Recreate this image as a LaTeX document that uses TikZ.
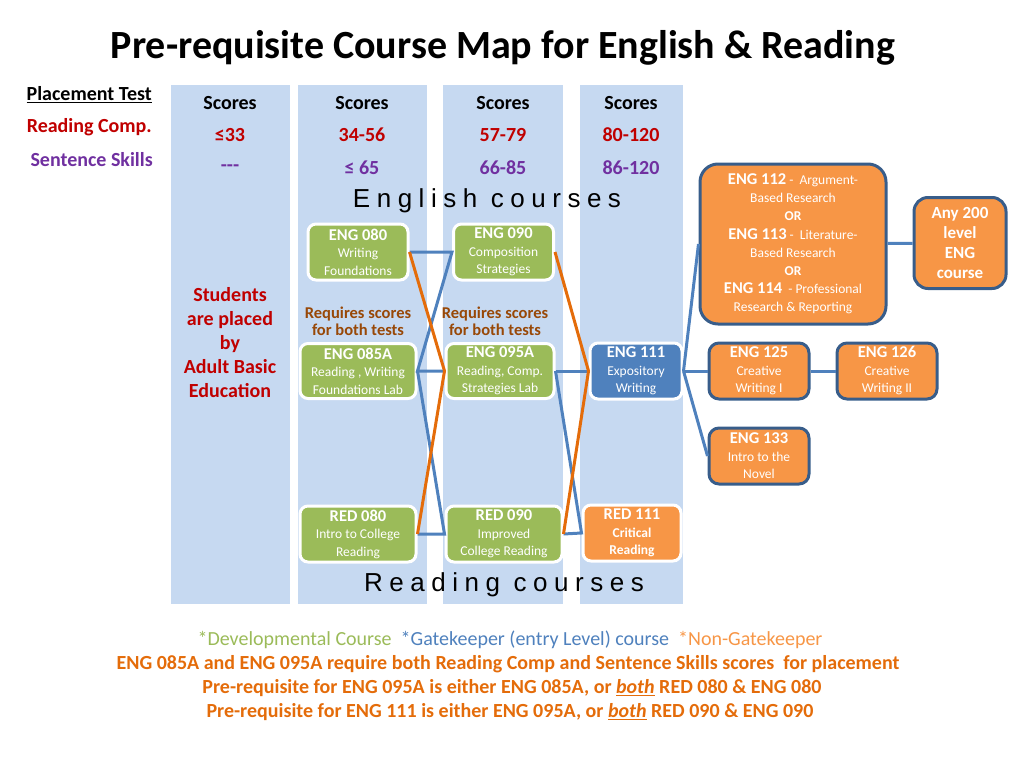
\documentclass[tikz,border=0pt]{standalone}
\usepackage{fontspec}
\setmainfont{Carlito}
\newfontfamily\spacedfont[LetterSpace=25]{Liberation Sans}
\usetikzlibrary{positioning}
\definecolor{colblue}{HTML}{C6D9F1}
\definecolor{devgreen}{HTML}{9BBB59}
\definecolor{gateblue}{HTML}{4F81BD}
\definecolor{ngorange}{HTML}{F79646}
\definecolor{darkorange}{HTML}{E46C0A}
\definecolor{edgeblue}{HTML}{385D8A}
\definecolor{scorered}{HTML}{C00000}
\definecolor{skillpurple}{HTML}{7030A0}
\definecolor{reqbrown}{HTML}{984807}
\newcommand{\cname}[1]{{\fontsize{16.5}{17.5}\selectfont\bfseries #1}}
\tikzset{
  basic/.style   = {rectangle, align=center, text=white, inner sep=1pt, line width=3pt, font=\fontsize{13.5}{17.5}\selectfont},
  devel/.style   = {basic, rounded corners=8pt, fill=devgreen, draw=white},
  gate/.style    = {basic, rounded corners=8pt, fill=gateblue, draw=white},
  redgate/.style = {basic, rounded corners=8pt, fill=ngorange, draw=white},
  upper/.style   = {basic, rounded corners=10pt, fill=ngorange, draw=edgeblue},
  head/.style    = {font=\fontsize{20}{22}\selectfont\bfseries, inner sep=0pt},
  side/.style    = {font=\fontsize{20}{22}\selectfont\bfseries, inner sep=0pt, anchor=east},
  note/.style    = {font=\fontsize{16.5}{17}\selectfont\bfseries, text=reqbrown, align=center, inner sep=0pt},
  spaced/.style  = {font=\spacedfont\fontsize{26}{28}\selectfont, inner sep=0pt},
  foot/.style    = {font=\fontsize{20}{22}\selectfont\bfseries, text=darkorange, inner sep=0pt},
  link/.style    = {draw=gateblue, line width=3pt},
  olink/.style   = {draw=darkorange, line width=3pt}
}
\begin{document}
\begin{tikzpicture}[x=1pt, y=-1pt]
    \useasboundingbox (0,0) rectangle (1024,768);

    % title
    \node[font=\fontsize{40}{44}\selectfont\bfseries] (title) at (503,48) {Pre-requisite Course Map for English \& Reading};

    % score columns
    \foreach \l/\r in {171/290, 298/427, 443/563, 580/683}
      \fill[colblue] (\l,85) rectangle (\r,604);

    % placement test labels
    \node[side] (pt) at (152,95) {\underline{Placement Test}};
    \node[side, text=scorered] (rc) at (152,127) {Reading Comp.};
    \node[side, text=skillpurple] (ss) at (153,160) {Sentence Skills};

    % score ranges per column
    \foreach \x/\rc/\sk [count=\i] in {230/≤33/-{}-{}-, 362/34-56/≤ 65, 503/57-79/66-85, 631/80-120/86-120} {
      \node[head] (s\i) at (\x,103) {Scores};
      \node[head, text=scorered] (r\i) at (\x,135) {\rc};
      \node[head, text=skillpurple] (k\i) at (\x,168) {\sk};
    }

    \node[spaced] (eng) at (487,201) {English courses};
    \node[spaced] (red) at (504,585) {Reading courses};

    \node[head, text=scorered, align=center, font=\fontsize{20}{24}\selectfont\bfseries] (abe) at (230,343)
      {Students\\are placed\\by\\Adult Basic\\Education};

    % developmental courses
    \node[devel, minimum width=100pt, minimum height=56pt] (e080) at (358,252) {\cname{ENG 080}\\Writing\\Foundations};
    \node[devel, minimum width=100pt, minimum height=56pt] (e090) at (503.5,252) {\cname{ENG 090}\\Composition\\Strategies};
    \node[devel, minimum width=116pt, minimum height=55pt] (e085) at (358,371) {\cname{ENG 085A}\\Reading , Writing\\Foundations Lab};
    \node[devel, minimum width=108pt, minimum height=55pt] (e095) at (500,371) {\cname{ENG 095A}\\Reading, Comp.\\Strategies Lab};
    \node[devel, minimum width=116pt, minimum height=56pt] (r080) at (358,534) {\cname{RED 080}\\Intro to College\\Reading};
    \node[devel, minimum width=116pt, minimum height=56pt] (r090) at (504,534) {\cname{RED 090}\\Improved\\College Reading};

    \node[note] (n1) at (358,321) {Requires scores\\for both tests};
    \node[note] (n2) at (495,321) {Requires scores\\for both tests};

    % gatekeeper courses
    \node[gate, minimum width=92pt, minimum height=56pt] (e111) at (636,371) {\cname{ENG 111}\\Expository\\Writing};
    \node[redgate, minimum width=98pt, minimum height=56pt] (r111) at (632,533) {\cname{RED 111}\\\textbf{Critical}\\\textbf{Reading}};

    % non-gatekeeper courses
    \node[upper, rounded corners=18pt, minimum width=186pt, minimum height=160pt, font=\fontsize{13.5}{18.2}\selectfont] (e112) at (793,244)
      {\cname{ENG 112} -~ Argument-\\Based Research\\\textbf{OR}\\\cname{ENG 113} -~ Literature-\\Based Research\\\textbf{OR}\\\cname{ENG 114} ~-~Professional\\Research \& Reporting};
    \node[upper, rounded corners=14pt, minimum width=92pt, minimum height=91pt, font=\fontsize{17}{20}\selectfont\bfseries] (any) at (960,243)
      {Any 200\\level\\ENG\\course};
    \node[upper, minimum width=100pt, minimum height=56pt] (e125) at (759,371) {\cname{ENG 125}\\Creative\\Writing I};
    \node[upper, minimum width=100pt, minimum height=56pt] (e126) at (887,371) {\cname{ENG 126}\\Creative\\Writing II};
    \node[upper, minimum width=100pt, minimum height=56pt] (e133) at (759,456) {\cname{ENG 133}\\Intro to the\\Novel};

    % connectors
    \draw[link] (e080.east) -- (e090.west) -- (e085.east) -- (e095.west);
    \draw[link] (e085.east) -- (r090.west) -- (r080.east);
    \draw[olink] (e080.east) -- (e095.west) -- (r080.east);
    \draw[link] (e095.east) -- (e111.west);
    \draw[link] (e095.east) -- (r111.west) -- (r090.east);
    \draw[olink] (e090.east) -- (e111.west) -- (r090.east);
    \foreach \t in {e112, e125, e133}
      \draw[link] (e111.east) -- (\t.west);
    \draw[link] (e125) -- (e126);
    \draw[link] (e112) -- (any);

    % legend and notes
    \node[font=\fontsize{20}{22}\selectfont, inner sep=0pt] (leg) at (510,640)
      {\textcolor{devgreen}{*Developmental Course}\ \ \textcolor{gateblue}{*Gatekeeper (entry Level) course}\ \ \textcolor{ngorange}{*Non-Gatekeeper}};
    \node[foot] (f1) at (508,664) {ENG 085A and ENG 095A require both Reading Comp and Sentence Skills scores\ \ for placement};
    \node[foot] (f2) at (512,688) {Pre-requisite for ENG 095A is either ENG 085A, or \underline{\textit{both}} RED 080 \& ENG 080};
    \node[foot] (f3) at (510,712) {Pre-requisite for ENG 111 is either ENG 095A, or \underline{\textit{both}} RED 090 \& ENG 090};
\end{tikzpicture}
\end{document}
